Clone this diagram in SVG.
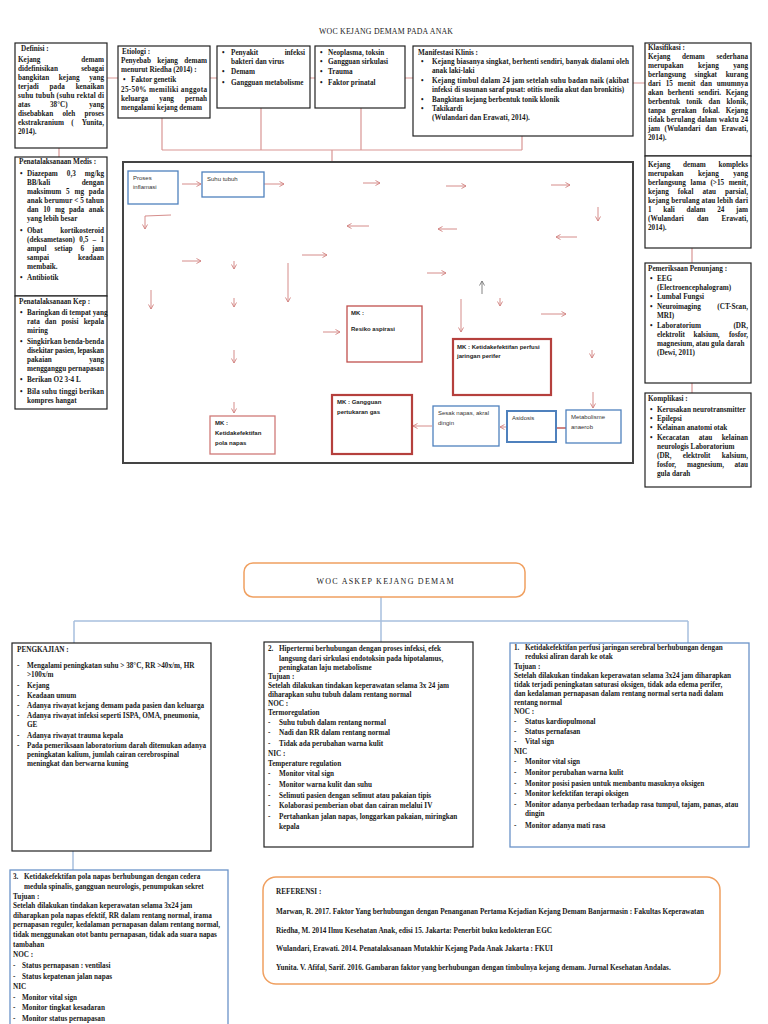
<svg xmlns="http://www.w3.org/2000/svg" width="768" height="1024" viewBox="0 0 768 1024">
<style>
.t{font-family:"Liberation Serif","Times New Roman",serif;font-size:7.2px;font-weight:bold;fill:#1a1a1a}
.e{text-anchor:end}
.bx{fill:#fff;stroke:#222;stroke-width:1.2}
.con{stroke:#d99694;stroke-width:1.2;fill:none}
.arr{stroke:#d0807e;stroke-width:0.9;fill:none;marker-end:url(#ah)}
.blue{fill:#fff;stroke:#4f81bd;stroke-width:1.3}
.mk{fill:#fff;stroke:#c0504d;stroke-width:1.3}
.mk2{fill:#fff;stroke:#b5403d;stroke-width:2.2}
.s{font-family:"Liberation Sans",Arial,sans-serif;font-size:6px;fill:#333}
.sb{font-weight:bold;fill:#222}
.tree{stroke:#a8c0de;stroke-width:1.5;fill:none}
.or{fill:#fff;stroke:#f0a060;stroke-width:1.5}
</style>
<defs>
<marker id="ah" markerWidth="6" markerHeight="6" refX="5" refY="3" orient="auto" markerUnits="userSpaceOnUse"><path d="M0.5,0.5 L5,3 L0.5,5.5" fill="none" stroke="#d0807e" stroke-width="0.9"/></marker>
<marker id="ahg" markerWidth="6" markerHeight="6" refX="5" refY="3" orient="auto" markerUnits="userSpaceOnUse"><path d="M0.5,0.5 L5,3 L0.5,5.5" fill="none" stroke="#777" stroke-width="0.9"/></marker>
</defs>
<rect width="768" height="1024" fill="#fff"/>

<text class="t" x="386" y="34" text-anchor="middle" style="font-size:7.8px;font-weight:normal" textLength="134">WOC KEJANG DEMAM PADA ANAK</text>

<g id="connectors">
<path class="con" d="M107,78 H118 M210,78 H217 M310,78 H315 M405,78 H413 M633,83 H645"/>
<path class="con" d="M162,118 V150 M261,108 V150 M361,108 V150 M522,136 V150 M162,150 H522 M332,150 V162"/>
<path class="con" d="M59,148 V157 M692,248 V263 M692,383 V393"/>
<path class="arr" d="M182,184 H201"/>
<path class="arr" d="M264,184 H284"/>
<path class="arr" d="M363,183 H380"/>
<path class="arr" d="M446,186 H466"/>
<path class="arr" d="M551,185 H570"/>
<path class="arr" d="M598,207 V221"/>
<path class="arr" d="M577,237 H556"/>
<path class="arr" d="M457,229 H438"/>
<path class="arr" d="M369,226 H347"/>
<path class="arr" d="M171,215 L145,216 V229"/>
<path class="arr" d="M182,261 H201"/>
<path class="arr" d="M234,261 V269"/>
<path class="arr" d="M288,263 V302"/>
<path class="arr" d="M302,255 H327"/>
<path class="arr" d="M427,273 H446"/>
<path class="arr" d="M482,294 V281" style="stroke:#777;marker-end:url(#ahg)"/>
<path class="arr" d="M500,298 V306"/>
<path class="arr" d="M541,314 H566"/>
<path class="arr" d="M151,290 V309"/>
<path class="arr" d="M234,298 V307"/>
<path class="arr" d="M461,299 V332"/>
<path class="arr" d="M323,332 H340"/>
<path class="arr" d="M234,350 V363"/>
<path class="arr" d="M592,350 V358"/>
<path class="arr" d="M593,392 V408"/>
<path class="arr" d="M234,402 V413"/>
<path class="arr" d="M432,426 H413"/>
<path class="arr" d="M507,427 H500"/>
<path d="M556,428 H566" stroke="#b5403d" stroke-width="1.3"/>
<path class="tree" d="M381,597 V642 M74,621 H688 M74,621 V643 M688,621 V643 M73,851 V870"/>
</g>

<g id="definisi">
<rect class="bx" x="15" y="43" width="92" height="105"/>
<text class="t" x="21" y="51">Definisi :</text>
<text class="t" x="18" y="62">Kejang</text><text class="t e" x="104" y="62">demam</text>
<text class="t" x="18" y="71">didefinisikan</text><text class="t e" x="104" y="71">sebagai</text>
<text class="t" x="18" y="80">bangkitan</text><text class="t" x="58.8" y="80">kejang</text><text class="t e" x="104" y="80">yang</text>
<text class="t" x="18" y="89">terjadi</text><text class="t" x="49.6" y="89">pada</text><text class="t e" x="104" y="89">kenaikan</text>
<text class="t" x="18" y="98" textLength="86">suhu tubuh (suhu rektal di</text>
<text class="t" x="18" y="107">atas</text><text class="t" x="50" y="107">38°C)</text><text class="t e" x="104" y="107">yang</text>
<text class="t" x="18" y="116">disebabkan</text><text class="t" x="62.4" y="116">oleh</text><text class="t e" x="104" y="116">proses</text>
<text class="t" x="18" y="125">ekstrakranium</text><text class="t" x="71.3" y="125">(</text><text class="t e" x="104" y="125">Yunita,</text>
<text class="t" x="18" y="134">2014).</text>
</g>

<g id="etiologi">
<rect class="bx" x="118" y="46" width="92" height="72"/>
<text class="t" x="122" y="54">Etiologi :</text>
<text class="t" x="121" y="63">Penyebab</text><text class="t" x="157.2" y="63">kejang</text><text class="t e" x="207" y="63">demam</text>
<text class="t" x="121" y="72">menurut Riedha (2014) :</text>
<text class="t" x="123" y="82">•</text><text class="t" x="131" y="82">Faktor genetik</text>
<text class="t" x="121" y="92" textLength="86">25-50% memiliki anggota</text>
<text class="t" x="121" y="101">keluarga</text><text class="t" x="159.2" y="101">yang</text><text class="t e" x="207" y="101">pernah</text>
<text class="t" x="121" y="110">mengalami kejang demam</text>
</g>

<g id="penyebab1">
<rect class="bx" x="217" y="46" width="93" height="62"/>
<text class="t" x="222" y="55">•</text><text class="t" x="231" y="55">Penyakit</text><text class="t e" x="305" y="55">infeksi</text>
<text class="t" x="231" y="64">bakteri dan virus</text>
<text class="t" x="222" y="74">•</text><text class="t" x="231" y="74">Demam</text>
<text class="t" x="222" y="85">•</text><text class="t" x="231" y="85">Gangguan metabolisme</text>
</g>

<g id="penyebab2">
<rect class="bx" x="315" y="46" width="90" height="62"/>
<text class="t" x="320" y="55">•</text><text class="t" x="328" y="55">Neoplasma, toksin</text>
<text class="t" x="320" y="64">•</text><text class="t" x="328" y="64">Gangguan sirkulasi</text>
<text class="t" x="320" y="74">•</text><text class="t" x="328" y="74">Trauma</text>
<text class="t" x="320" y="85">•</text><text class="t" x="328" y="85">Faktor prinatal</text>
</g>

<g id="manifestasi">
<rect class="bx" x="413" y="46" width="220" height="90"/>
<text class="t" x="418" y="55">Manifestasi Klinis :</text>
<text class="t" x="421" y="64">•</text><text class="t" x="432" y="64" textLength="197">Kejang biasanya singkat, berhenti sendiri, banyak dialami oleh</text>
<text class="t" x="432" y="73">anak laki-laki</text>
<text class="t" x="421" y="83">•</text><text class="t" x="432" y="83" textLength="197">Kejang timbul dalam 24 jam setelah suhu badan naik (akibat</text>
<text class="t" x="432" y="92">infeksi di susunan saraf pusat: otitis media akut dan bronkitis)</text>
<text class="t" x="421" y="102">•</text><text class="t" x="432" y="102">Bangkitan kejang berbentuk tonik klonik</text>
<text class="t" x="421" y="111">•</text><text class="t" x="432" y="111">Takikardi</text>
<text class="t" x="432" y="120">(Wulandari dan Erawati, 2014).</text>
</g>

<g id="klasifikasi">
<rect class="bx" x="645" y="43" width="106" height="113"/>
<text class="t" x="648" y="50">Klasifikasi :</text>
<text class="t" x="648" y="59">Kejang</text><text class="t" x="682" y="59">demam</text><text class="t e" x="748" y="59">sederhana</text>
<text class="t" x="648" y="68">merupakan</text><text class="t" x="698" y="68">kejang</text><text class="t e" x="748" y="68">yang</text>
<text class="t" x="648" y="77">berlangsung</text><text class="t" x="694.6" y="77">singkat</text><text class="t e" x="748" y="77">kurang</text>
<text class="t" x="648" y="86">dari</text><text class="t" x="665.7" y="86">15</text><text class="t" x="677.8" y="86">menit</text><text class="t" x="700.3" y="86">dan</text><text class="t e" x="748" y="86">umumnya</text>
<text class="t" x="648" y="95">akan</text><text class="t" x="667.7" y="95">berhenti</text><text class="t" x="698.2" y="95">sendiri.</text><text class="t e" x="748" y="95">Kejang</text>
<text class="t" x="648" y="104">berbentuk</text><text class="t" x="686.3" y="104">tonik</text><text class="t" x="708.6" y="104">dan</text><text class="t e" x="748" y="104">klonik,</text>
<text class="t" x="648" y="113">tanpa</text><text class="t" x="671.4" y="113">gerakan</text><text class="t" x="702.4" y="113">fokal.</text><text class="t e" x="748" y="113">Kejang</text>
<text class="t" x="648" y="122" textLength="100">tidak berulang dalam waktu 24</text>
<text class="t" x="648" y="131">jam</text><text class="t" x="664.6" y="131">(Wulandari</text><text class="t" x="705.2" y="131">dan</text><text class="t e" x="748" y="131">Erawati,</text>
<text class="t" x="648" y="140">2014).</text>
</g>

<g id="kompleks">
<rect class="bx" x="645" y="156" width="106" height="92"/>
<text class="t" x="648" y="167">Kejang</text><text class="t" x="683" y="167">demam</text><text class="t e" x="748" y="167">kompleks</text>
<text class="t" x="648" y="176">merupakan</text><text class="t" x="698" y="176">kejang</text><text class="t e" x="748" y="176">yang</text>
<text class="t" x="648" y="185">berlangsung</text><text class="t" x="690.6" y="185">lama</text><text class="t" x="710.4" y="185">(&gt;15</text><text class="t e" x="748" y="185">menit,</text>
<text class="t" x="648" y="194">kejang</text><text class="t" x="677.8" y="194">fokal</text><text class="t" x="702.4" y="194">atau</text><text class="t e" x="748" y="194">parsial,</text>
<text class="t" x="648" y="203" textLength="100">kejang berulang atau lebih dari</text>
<text class="t" x="648" y="212">1</text><text class="t" x="663.2" y="212">kali</text><text class="t" x="686.4" y="212">dalam</text><text class="t" x="717.2" y="212">24</text><text class="t e" x="748" y="212">jam</text>
<text class="t" x="648" y="221">(Wulandari</text><text class="t" x="696.9" y="221">dan</text><text class="t e" x="748" y="221">Erawati,</text>
<text class="t" x="648" y="230">2014).</text>
</g>

<g id="pemeriksaan">
<rect class="bx" x="645" y="263" width="106" height="120"/>
<text class="t" x="648" y="271">Pemeriksaan Penunjang :</text>
<text class="t" x="650" y="281">•</text><text class="t" x="657" y="281">EEG</text>
<text class="t" x="657" y="290">(Electroencephalogram)</text>
<text class="t" x="650" y="299">•</text><text class="t" x="657" y="299">Lumbal Fungsi</text>
<text class="t" x="650" y="309">•</text><text class="t" x="657" y="309">Neuroimaging</text><text class="t e" x="748" y="309">(CT-Scan,</text>
<text class="t" x="657" y="318">MRI)</text>
<text class="t" x="650" y="328">•</text><text class="t" x="657" y="328">Laboratorium</text><text class="t e" x="748" y="328">(DR,</text>
<text class="t" x="657" y="337">elektrolit</text><text class="t" x="693.5" y="337">kalsium,</text><text class="t e" x="748" y="337">fosfor,</text>
<text class="t" x="657" y="346">magnesium, atau gula darah</text>
<text class="t" x="657" y="355">(Dewi, 2011)</text>
</g>

<g id="komplikasi">
<rect class="bx" x="645" y="393" width="106" height="94"/>
<text class="t" x="648" y="401">Komplikasi :</text>
<text class="t" x="650" y="412">•</text><text class="t" x="657" y="412">Kerusakan neurotransmitter</text>
<text class="t" x="650" y="421">•</text><text class="t" x="657" y="421">Epilepsi</text>
<text class="t" x="650" y="430">•</text><text class="t" x="657" y="430">Kelainan anatomi otak</text>
<text class="t" x="650" y="440">•</text><text class="t" x="657" y="440">Kecacatan</text><text class="t" x="698.7" y="440">atau</text><text class="t e" x="748" y="440">kelainan</text>
<text class="t" x="657" y="449">neurologis Laboratorium</text>
<text class="t" x="657" y="458">(DR,</text><text class="t" x="682.7" y="458">elektrolit</text><text class="t e" x="748" y="458">kalsium,</text>
<text class="t" x="657" y="467">fosfor,</text><text class="t" x="687.1" y="467">magnesium,</text><text class="t e" x="748" y="467">atau</text>
<text class="t" x="657" y="476">gula darah</text>
</g>

<g id="penatalaksanaan-medis">
<rect class="bx" x="15" y="157" width="92" height="139"/>
<text class="t" x="19" y="164">Penatalaksanaan Medis :</text>
<text class="t" x="20" y="176">•</text><text class="t" x="27" y="176">Diazepam</text><text class="t" x="66.8" y="176">0,3</text><text class="t e" x="104" y="176">mg/kg</text>
<text class="t" x="27" y="185">BB/kali</text><text class="t e" x="104" y="185">dengan</text>
<text class="t" x="27" y="194">maksimum</text><text class="t" x="66.1" y="194">5</text><text class="t" x="74.4" y="194">mg</text><text class="t e" x="104" y="194">pada</text>
<text class="t" x="27" y="203" textLength="77">anak berumur &lt; 5 tahun</text>
<text class="t" x="27" y="212">dan</text><text class="t" x="43.2" y="212">10</text><text class="t" x="54.9" y="212">mg</text><text class="t" x="69" y="212">pada</text><text class="t e" x="104" y="212">anak</text>
<text class="t" x="27" y="221">yang lebih besar</text>
<text class="t" x="20" y="233">•</text><text class="t" x="27" y="233">Obat</text><text class="t e" x="104" y="233">kortikosteroid</text>
<text class="t" x="27" y="242">(deksametason)</text><text class="t" x="79.3" y="242">0,5</text><text class="t" x="92.6" y="242">–</text><text class="t e" x="104" y="242">1</text>
<text class="t" x="27" y="251">ampul</text><text class="t" x="54.5" y="251">setiap</text><text class="t" x="80.4" y="251">6</text><text class="t e" x="104" y="251">jam</text>
<text class="t" x="27" y="260">sampai</text><text class="t e" x="104" y="260">keadaan</text>
<text class="t" x="27" y="269">membaik.</text>
<text class="t" x="20" y="280">•</text><text class="t" x="27" y="280">Antibiotik</text>
</g>

<g id="penatalaksanaan-kep">
<rect class="bx" x="15" y="296" width="92" height="113"/>
<text class="t" x="19" y="304">Penatalaksanaan Kep :</text>
<text class="t" x="20" y="315">•</text><text class="t" x="27" y="315">Baringkan di tempat yang</text>
<text class="t" x="27" y="324">rata</text><text class="t" x="44.8" y="324">dan</text><text class="t" x="61.4" y="324">posisi</text><text class="t e" x="104" y="324">kepala</text>
<text class="t" x="27" y="333">miring</text>
<text class="t" x="20" y="344">•</text><text class="t" x="27" y="344" textLength="77">Singkirkan benda-benda</text>
<text class="t" x="27" y="353" textLength="77">disekitar pasien, lepaskan</text>
<text class="t" x="27" y="362">pakaian</text><text class="t e" x="104" y="362">yang</text>
<text class="t" x="27" y="371">mengganggu pernapasan</text>
<text class="t" x="20" y="382">•</text><text class="t" x="27" y="382">Berikan O2 3-4 L</text>
<text class="t" x="20" y="394">•</text><text class="t" x="27" y="394" textLength="77">Bila suhu tinggi berikan</text>
<text class="t" x="27" y="403">kompres hangat</text>
</g>

<g id="patofisiologi">
<rect x="123" y="162" width="510" height="301" fill="none" stroke="#444" stroke-width="2"/>
</g>

<g id="proses-inflamasi">
<rect class="blue" x="128" y="171" width="50" height="33"/>
<text class="s" x="133" y="180">Proses</text><text class="s" x="133" y="189">inflamasi</text>
</g>
<g id="suhu-tubuh">
<rect class="blue" x="202" y="172" width="62" height="25"/>
<text class="s" x="207" y="181">Suhu tubuh</text>
</g>
<g id="mk-resiko-aspirasi">
<rect class="mk" x="347" y="306" width="75" height="56"/>
<text class="s sb" x="351" y="315">MK :</text><text class="s sb" x="351" y="331">Resiko aspirasi</text>
</g>
<g id="mk-perfusi">
<rect class="mk2" x="453" y="339" width="98" height="56"/>
<text class="s sb" x="457" y="349">MK : Ketidakefektifan perfusi</text><text class="s sb" x="457" y="358">jaringan perifer</text>
</g>
<g id="mk-pertukaran-gas">
<rect class="mk2" x="332" y="395" width="80" height="59"/>
<text class="s sb" x="337" y="404">MK : Gangguan</text><text class="s sb" x="337" y="414">pertukaran gas</text>
</g>
<g id="mk-pola-napas">
<rect class="mk" x="210" y="416" width="65" height="38" style="stroke:#d07a78"/>
<text class="s sb" x="215" y="425">MK :</text><text class="s sb" x="215" y="435">Ketidakefektifan</text><text class="s sb" x="215" y="445">pola napas</text>
</g>
<g id="sesak-napas">
<rect class="blue" x="433" y="406" width="66" height="40"/>
<text class="s" x="438" y="415">Sesak napas, akral</text><text class="s" x="438" y="425">dingin</text>
</g>
<g id="asidosis">
<rect class="blue" x="507" y="411" width="49" height="31" style="stroke-width:2"/>
<text class="s" x="512" y="420">Asidosis</text>
</g>
<g id="metabolisme-anaerob">
<rect class="blue" x="566" y="410" width="55" height="33"/>
<text class="s" x="571" y="419">Metabolisme</text><text class="s" x="571" y="429">anaerob</text>
</g>

<g id="woc-askep">
<rect class="or" x="244" y="563" width="281" height="34" rx="9"/>
<text class="t" x="385" y="584" text-anchor="middle" style="font-size:8px;font-weight:normal" textLength="137">WOC ASKEP KEJANG DEMAM</text>
</g>

<g id="pengkajian">
<rect class="bx" x="12" y="643" width="199" height="208"/>
<text class="t" x="17" y="652">PENGKAJIAN :</text>
<text class="t" x="17" y="668">-</text><text class="t" x="27" y="668">Mengalami peningkatan suhu &gt; 38°C, RR &gt;40x/m, HR</text>
<text class="t" x="27" y="677">&gt;100x/m</text>
<text class="t" x="17" y="688">-</text><text class="t" x="27" y="688">Kejang</text>
<text class="t" x="17" y="698">-</text><text class="t" x="27" y="698">Keadaan umum</text>
<text class="t" x="17" y="708">-</text><text class="t" x="27" y="708">Adanya riwayat kejang demam pada pasien dan keluarga</text>
<text class="t" x="17" y="718">-</text><text class="t" x="27" y="718">Adanya riwayat infeksi seperti ISPA, OMA, pneumonia,</text>
<text class="t" x="27" y="727">GE</text>
<text class="t" x="17" y="738">-</text><text class="t" x="27" y="738">Adanya riwayat trauma kepala</text>
<text class="t" x="17" y="748">-</text><text class="t" x="27" y="748">Pada pemeriksaan laboratorium darah ditemukan adanya</text>
<text class="t" x="27" y="757">peningkatan kalium, jumlah cairan cerebrospinal</text>
<text class="t" x="27" y="766">meningkat dan berwarna kuning</text>
</g>

<g id="hipertermi">
<rect class="bx" x="264" y="642" width="209" height="205"/>
<text class="t" x="268" y="651">2.</text><text class="t" x="279" y="651">Hipertermi berhubungan dengan proses infeksi, efek</text>
<text class="t" x="279" y="661">langsung dari sirkulasi endotoksin pada hipotalamus,</text>
<text class="t" x="279" y="670">peningkatan laju metabolisme</text>
<text class="t" x="268" y="679">Tujuan :</text>
<text class="t" x="268" y="688">Setelah dilakukan tindakan keperawatan selama 3x 24 jam</text>
<text class="t" x="268" y="697">diharapkan suhu tubuh dalam rentang normal</text>
<text class="t" x="268" y="706">NOC :</text>
<text class="t" x="268" y="715">Termoregulation</text>
<text class="t" x="268" y="725">-</text><text class="t" x="279" y="725">Suhu tubuh dalam rentang normal</text>
<text class="t" x="268" y="735">-</text><text class="t" x="279" y="735">Nadi dan RR dalam rentang normal</text>
<text class="t" x="268" y="746">-</text><text class="t" x="279" y="746">Tidak ada perubahan warna kulit</text>
<text class="t" x="268" y="756">NIC :</text>
<text class="t" x="268" y="766">Temperature regulation</text>
<text class="t" x="268" y="776">-</text><text class="t" x="279" y="776">Monitor vital sign</text>
<text class="t" x="268" y="787">-</text><text class="t" x="279" y="787">Monitor warna kulit dan suhu</text>
<text class="t" x="268" y="798">-</text><text class="t" x="279" y="798">Selimuti pasien dengan selimut atau pakaian tipis</text>
<text class="t" x="268" y="808">-</text><text class="t" x="279" y="808">Kolaborasi pemberian obat dan cairan melalui IV</text>
<text class="t" x="268" y="819">-</text><text class="t" x="279" y="819">Pertahankan jalan napas, longgarkan pakaian, miringkan</text>
<text class="t" x="279" y="829">kepala</text>
</g>

<g id="perfusi-serebral">
<rect class="blue" x="510" y="643" width="239" height="204" style="stroke:#6a93c8"/>
<text class="t" x="514" y="650">1.</text><text class="t" x="525" y="650">Ketidakefektifan perfusi jaringan serebral berhubungan dengan</text>
<text class="t" x="525" y="659">reduksi aliran darah ke otak</text>
<text class="t" x="514" y="669">Tujuan :</text>
<text class="t" x="514" y="678">Setelah dilakukan tindakan keperawatan selama 3x24 jam diharapkan</text>
<text class="t" x="514" y="687">tidak terjadi peningkatan saturasi oksigen, tidak ada edema perifer,</text>
<text class="t" x="514" y="696">dan kedalaman pernapasan dalam rentang normal serta nadi dalam</text>
<text class="t" x="514" y="705">rentang normal</text>
<text class="t" x="514" y="714">NOC :</text>
<text class="t" x="514" y="724">-</text><text class="t" x="525" y="724">Status kardiopulmonal</text>
<text class="t" x="514" y="734">-</text><text class="t" x="525" y="734">Status pernafasan</text>
<text class="t" x="514" y="744">-</text><text class="t" x="525" y="744">Vital sign</text>
<text class="t" x="514" y="754">NIC</text>
<text class="t" x="514" y="764">-</text><text class="t" x="525" y="764">Monitor vital sign</text>
<text class="t" x="514" y="775">-</text><text class="t" x="525" y="775">Monitor perubahan warna kulit</text>
<text class="t" x="514" y="786">-</text><text class="t" x="525" y="786">Monitor posisi pasien untuk membantu masuknya oksigen</text>
<text class="t" x="514" y="796">-</text><text class="t" x="525" y="796">Monitor kefektifan terapi oksigen</text>
<text class="t" x="514" y="807">-</text><text class="t" x="525" y="807">Monitor adanya perbedaan terhadap rasa tumpul, tajam, panas, atau</text>
<text class="t" x="525" y="816">dingin</text>
<text class="t" x="514" y="828">-</text><text class="t" x="525" y="828">Monitor adanya mati rasa</text>
</g>

<g id="pola-napas">
<rect class="blue" x="10" y="870" width="218" height="170" style="stroke:#6a93c8"/>
<text class="t" x="13" y="879">3.</text><text class="t" x="24" y="879">Ketidakefektifan pola napas berhubungan dengan cedera</text>
<text class="t" x="24" y="889">medula spinalis, gangguan neurologis, penumpukan sekret</text>
<text class="t" x="13" y="899">Tujuan :</text>
<text class="t" x="13" y="908">Setelah dilakukan tindakan keperawatan selama 3x24 jam</text>
<text class="t" x="13" y="918">diharapkan pola napas efektif, RR dalam rentang normal, irama</text>
<text class="t" x="13" y="927">pernapasan reguler, kedalaman pernapasan dalam rentang normal,</text>
<text class="t" x="13" y="937">tidak menggunakan otot bantu pernapasan, tidak ada suara napas</text>
<text class="t" x="13" y="947">tambahan</text>
<text class="t" x="13" y="957">NOC :</text>
<text class="t" x="13" y="968">-</text><text class="t" x="22" y="968">Status pernapasan : ventilasi</text>
<text class="t" x="13" y="979">-</text><text class="t" x="22" y="979">Status kepatenan jalan napas</text>
<text class="t" x="13" y="989">NIC</text>
<text class="t" x="13" y="1000">-</text><text class="t" x="22" y="1000">Monitor vital sign</text>
<text class="t" x="13" y="1010">-</text><text class="t" x="22" y="1010">Monitor tingkat kesadaran</text>
<text class="t" x="13" y="1021">-</text><text class="t" x="22" y="1021">Monitor status pernapasan</text>
</g>

<g id="referensi">
<rect class="or" x="263" y="877" width="457" height="107" rx="13"/>
<text class="t" x="276" y="894">REFERENSI :</text>
<text class="t" x="276" y="914">Marwan, R. 2017. Faktor Yang berhubungan dengan Penanganan Pertama Kejadian Kejang Demam Banjarmasin : Fakultas  Keperawatan</text>
<text class="t" x="276" y="933">Riedha, M. 2014 Ilmu Kesehatan Anak, edisi 15. Jakarta: Penerbit buku kedokteran  EGC</text>
<text class="t" x="276" y="951">Wulandari, Erawati. 2014. Penatalaksanaan Mutakhir Kejang Pada Anak Jakarta : FKUI</text>
<text class="t" x="276" y="970">Yunita. V. Afifal, Sarif. 2016. Gambaran faktor yang berhubungan dengan timbulnya kejang demam. Jurnal Kesehatan Andalas.</text>
</g>
</svg>
